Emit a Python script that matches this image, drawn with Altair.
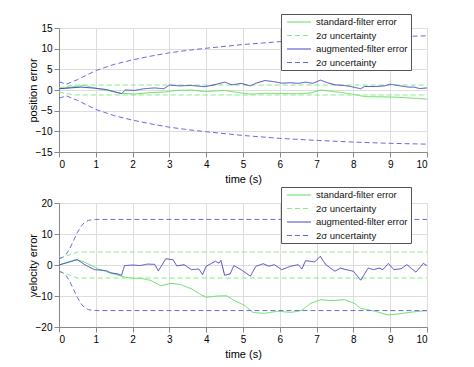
import altair as alt
import pandas as pd

# ---------------- position panel data ----------------
pos_std_t = [0, 0.4, 0.7, 0.96, 1.3, 1.7, 2.05, 2.5, 2.85, 3.2, 3.6, 3.95, 4.5, 4.85, 5.2, 5.6, 6.05, 6.5, 6.85, 7.1, 7.4, 7.75, 8.1, 8.3, 8.75, 9.2, 9.65, 10]
pos_std_v = [0.3, 0.8, 1.1, 0.5, -0.1, -0.8, -1.0, -0.6, -0.5, -0.1, 0.0, -0.4, -0.1, -0.6, -1.0, -0.8, -0.85, -0.9, -0.7, 0.0, -0.3, -0.7, -1.2, -1.6, -1.65, -1.75, -2.0, -2.2]

pos_aug_t = [0, 0.6, 0.96, 1.3, 1.7, 1.8, 2.05, 2.3, 2.6, 2.85, 3.0, 3.27, 3.6, 3.95, 4.2, 4.5, 4.7, 4.95, 5.2, 5.35, 5.6, 5.85, 6.05, 6.3, 6.5, 6.7, 6.9, 7.1, 7.3, 7.5, 7.75, 7.95, 8.2, 8.3, 8.6, 8.85, 9.0, 9.2, 9.5, 9.65, 9.8, 10]
pos_aug_v = [0.3, 0.7, 0.45, 0.1, -0.9, 0.0, -0.1, 0.3, 0.5, 0.3, 1.2, 1.0, 1.1, 0.8, 1.2, 1.9, 1.25, 1.6, 1.0, 1.65, 2.3, 2.0, 1.65, 1.75, 1.6, 1.9, 1.6, 2.4, 1.75, 1.25, 1.1, 0.8, 0.3, 0.85, 0.85, 1.0, 1.4, 1.1, 0.7, 0.7, 0.35, 0.5]

pos_std_bound_t = [0, 0.4, 10]
pos_std_bound_up = [0.5, 1.2, 1.2]
pos_std_bound_lo = [-0.5, -1.2, -1.2]

pos_aug_bound_t = [0, 0.2, 0.5, 1, 1.5, 2, 2.5, 3, 3.5, 4, 5, 6, 7, 8, 9, 10]
pos_aug_bound_up = [2.0, 1.4, 2.5, 4.7, 6.2, 7.3, 8.2, 9.0, 9.6, 10.1, 11.0, 11.7, 12.2, 12.6, 12.9, 13.1]
pos_aug_bound_lo = [-2.0, -1.4, -2.5, -4.7, -6.2, -7.3, -8.2, -9.0, -9.6, -10.1, -11.0, -11.7, -12.2, -12.6, -12.9, -13.1]

# ---------------- velocity panel data ----------------
vel_std_t = [0, 0.46, 0.7, 1.05, 1.4, 1.78, 2.0, 2.23, 2.5, 2.77, 3.05, 3.3, 3.6, 3.86, 4.0, 4.3, 4.55, 4.77, 5.04, 5.27, 5.58, 5.95, 6.3, 6.58, 6.85, 7.12, 7.4, 7.76, 8.03, 8.2, 8.58, 8.94, 9.2, 9.65, 10]
vel_std_v = [0, 1.8, 0.9, -1.2, -2.6, -3.9, -4.3, -4.3, -5.0, -6.7, -5.9, -6.3, -7.7, -9.6, -10.4, -10.0, -9.9, -11.5, -13.0, -15.3, -15.6, -14.9, -15.3, -14.7, -12.3, -11.2, -11.5, -11.2, -12.4, -14.0, -14.9, -16.1, -15.8, -15.1, -14.7]

vel_aug_t = [0, 0.5, 0.7, 0.96, 1.28, 1.4, 1.6, 1.7, 1.78, 2.0, 2.2, 2.4, 2.6, 2.7, 2.9, 3.1, 3.2, 3.4, 3.6, 3.8, 3.9, 4.0, 4.25, 4.35, 4.4, 4.5, 4.65, 4.75, 4.95, 5.2, 5.35, 5.55, 5.7, 5.85, 6.05, 6.3, 6.5, 6.6, 6.7, 6.95, 7.1, 7.25, 7.5, 7.65, 7.8, 8.0, 8.2, 8.4, 8.55, 8.7, 8.8, 8.95, 9.1, 9.3, 9.45, 9.7, 9.9, 10]
vel_aug_v = [0, 1.7, 0.1, -1.5, -1.8, -2.5, -2.9, -3.3, -0.2, 0.0, -0.2, 0.3, 0.2, -1.9, 2.0, 1.7, -0.3, 0.1, -1.5, -1.3, -3.1, -0.4, 1.2, 0.6, 1.5, -3.3, -2.9, -0.2, -1.5, -3.6, -0.4, 0.4, -0.4, 0.1, -1.5, -0.4, 0.1, -1.3, 1.4, 1.0, 2.8, 0.1, -2.0, -1.0, -1.5, -2.0, -4.9, -1.0, -1.5, -1.0, -1.5, 0.5, -1.5, -1.2, 0.1, -2.3, 0.5, -0.2]

vel_std_bound_t = [0, 0.5, 10]
vel_std_bound_up = [2.0, 4.2, 4.2]
vel_std_bound_lo = [-2.0, -4.2, -4.2]

vel_aug_bound_t = [0, 0.1, 0.2, 0.3, 0.4, 0.5, 0.6, 0.7, 0.8, 0.9, 1.0, 10]
vel_aug_bound_up = [2.0, 2.5, 3.5, 5.5, 8.0, 10.5, 12.5, 13.8, 14.4, 14.6, 14.7, 14.7]
vel_aug_bound_lo = [-2.0, -2.5, -3.5, -5.5, -8.0, -10.5, -12.5, -13.8, -14.4, -14.6, -14.7, -14.7]

series_keys = ["standard-filter error", "2σ uncertainty (standard)",
               "augmented-filter error", "2σ uncertainty (augmented)"]
series_colors = ["#5ee05e", "#86ec86", "#4646c8", "#6a6ae0"]
series_dash = [[1, 0], [5, 3], [1, 0], [5, 3]]

x_ticks = [0, 1, 2, 3, 4, 5, 6, 7, 8, 9, 10]
pos_ticks = [-15, -10, -5, 0, 5, 10, 15]
vel_ticks = [-20, -10, 0, 10, 20]


def rows(key, part, ts, vs):
    return [{"series": key, "part": part, "t": t, "v": v} for t, v in zip(ts, vs)]


def frame(std_t, std_v, aug_t, aug_v, sb_t, sb_up, sb_lo, ab_t, ab_up, ab_lo):
    r = []
    r += rows(series_keys[0], "a", std_t, std_v)
    r += rows(series_keys[1], "up", sb_t, sb_up)
    r += rows(series_keys[1], "lo", sb_t, sb_lo)
    r += rows(series_keys[2], "a", aug_t, aug_v)
    r += rows(series_keys[3], "up", ab_t, ab_up)
    r += rows(series_keys[3], "lo", ab_t, ab_lo)
    return pd.DataFrame(r)


pos_df = frame(pos_std_t, pos_std_v, pos_aug_t, pos_aug_v,
               pos_std_bound_t, pos_std_bound_up, pos_std_bound_lo,
               pos_aug_bound_t, pos_aug_bound_up, pos_aug_bound_lo)
vel_df = frame(vel_std_t, vel_std_v, vel_aug_t, vel_aug_v,
               vel_std_bound_t, vel_std_bound_up, vel_std_bound_lo,
               vel_aug_bound_t, vel_aug_bound_up, vel_aug_bound_lo)

FONT = "Liberation Sans"


def panel(df, ytitle, ydom, yticks, legend_y):
    legend = alt.Legend(
        title=None, orient="none", legendX=222, legendY=legend_y,
        fillColor="white", strokeColor="#555555", padding=3,
        symbolType="M-3,0H3", symbolSize=64, symbolStrokeWidth=1.2,
        symbolOffset=10, labelOffset=12,
        labelFont=FONT, labelFontSize=9.5, labelColor="#111111",
        rowPadding=3.5, labelLimit=200,
        labelExpr="split(datum.label, ' (')[0]",
    )
    return alt.Chart(df).mark_line(strokeWidth=1, clip=True).encode(
        x=alt.X("t:Q", scale=alt.Scale(domain=[0, 10], nice=False),
                axis=alt.Axis(values=x_ticks, title="time (s)", format="d",
                              titleFontWeight="normal", titlePadding=4)),
        y=alt.Y("v:Q", scale=alt.Scale(domain=ydom, nice=False),
                axis=alt.Axis(values=yticks, title=ytitle, titleFontWeight="normal",
                              titleX=-21)),
        color=alt.Color("series:N", scale=alt.Scale(domain=series_keys, range=series_colors),
                        legend=legend),
        strokeDash=alt.StrokeDash("series:N", scale=alt.Scale(domain=series_keys, range=series_dash),
                                  legend=legend),
        detail="part:N",
        order=alt.Order("t:Q"),
    ).properties(width=368, height=124)


top = panel(pos_df, "position error", [-15, 15], pos_ticks, -14)
bottom = panel(vel_df, "velocity error", [-20, 20], vel_ticks, -16)

chart = alt.vconcat(top, bottom, spacing=1).resolve_scale(
    color="independent", strokeDash="independent"
).resolve_legend(
    color="independent", strokeDash="independent"
).properties(
    padding={"left": 18, "top": 5, "right": 5, "bottom": 5}
).configure_view(
    stroke="#aaaaaa", strokeWidth=1
).configure_axis(
    grid=True, gridColor="#e4e4e4", gridWidth=1,
    domainColor="#444444", domainWidth=1,
    ticks=False, labelPadding=3,
    labelFont=FONT, labelFontSize=8.5, labelColor="#333333",
    titleFont=FONT, titleFontSize=13.5, titleFontWeight="normal", titleColor="#222222",
    titlePadding=5,
).configure(background="white")

chart.save("out.html", embed_options={"renderer": "svg", "actions": False})
